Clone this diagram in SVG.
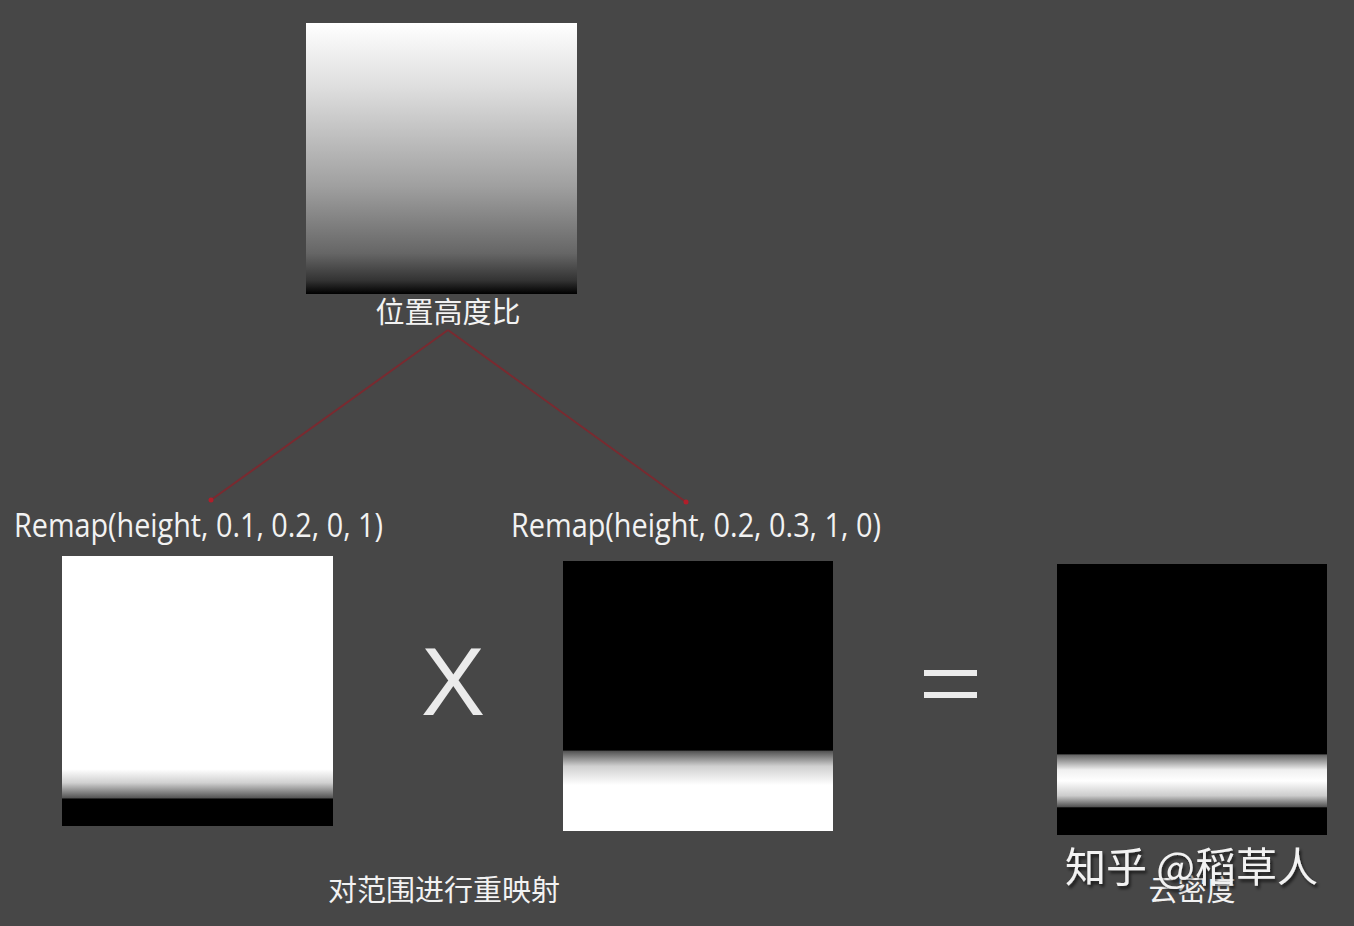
<svg xmlns="http://www.w3.org/2000/svg" width="1354" height="926" viewBox="0 0 1354 926">
<style>
.t{font-family:"Noto Sans CJK SC","Noto Sans",sans-serif;fill:#f2f2f2}
.r{font-family:"Liberation Sans Narrow","Open Sans","Liberation Sans",sans-serif;fill:#f2f2f2;font-size:32px}
.c{stroke:#7a2a30;stroke-width:2;fill:none;marker-end:url(#dot)}
</style>
<defs>
<linearGradient id="g0" x1="0" y1="0" x2="0" y2="1">
<stop offset="0" stop-color="#ffffff"/>
<stop offset="0.25" stop-color="#dcdcdc"/>
<stop offset="0.6" stop-color="#a0a0a0"/>
<stop offset="0.85" stop-color="#666"/>
<stop offset="0.95" stop-color="#333"/>
<stop offset="1" stop-color="#000"/>
</linearGradient>
<linearGradient id="g1" x1="0" y1="556" x2="0" y2="826" gradientUnits="userSpaceOnUse">
<stop offset="0.79" stop-color="#fff"/>
<stop offset="0.84" stop-color="#d0d0d0"/>
<stop offset="0.896" stop-color="#555"/>
<stop offset="0.9" stop-color="#000"/>
<stop offset="1" stop-color="#000"/>
</linearGradient>
<linearGradient id="g2" x1="0" y1="561" x2="0" y2="831" gradientUnits="userSpaceOnUse">
<stop offset="0.7" stop-color="#000"/>
<stop offset="0.705" stop-color="#555"/>
<stop offset="0.76" stop-color="#d0d0d0"/>
<stop offset="0.83" stop-color="#fff"/>
<stop offset="1" stop-color="#fff"/>
</linearGradient>
<linearGradient id="g3" x1="0" y1="564" x2="0" y2="835" gradientUnits="userSpaceOnUse">
<stop offset="0.7" stop-color="#000"/>
<stop offset="0.705" stop-color="#666"/>
<stop offset="0.76" stop-color="#f0f0f0"/>
<stop offset="0.8" stop-color="#fff"/>
<stop offset="0.855" stop-color="#ccc"/>
<stop offset="0.895" stop-color="#555"/>
<stop offset="0.9" stop-color="#000"/>
<stop offset="1" stop-color="#000"/>
</linearGradient>
<marker id="dot" markerWidth="6" markerHeight="6" refX="3" refY="3" markerUnits="userSpaceOnUse">
<circle cx="3" cy="3" r="2.5" fill="#b01e2a"/>
</marker>
<filter id="sh" x="-10%" y="-10%" width="130%" height="140%">
<feDropShadow dx="2" dy="3" stdDeviation="1.5" flood-color="#000" flood-opacity="0.6"/>
</filter>
</defs>
<rect width="1354" height="926" fill="#474747"/>
<g id="connectors">
<line class="c" x1="448" y1="330" x2="211" y2="500"/>
<line class="c" x1="448" y1="330" x2="686" y2="502"/>
</g>
<g id="height-ratio">
<rect x="306" y="23" width="271" height="271" fill="url(#g0)"/>
<text class="t" x="448" y="323" font-size="29" text-anchor="middle">位置高度比</text>
</g>
<g id="remap1">
<text class="r" x="14" y="537" textLength="369" lengthAdjust="spacingAndGlyphs">Remap(height, 0.1, 0.2, 0, 1)</text>
<rect x="62" y="556" width="271" height="270" fill="url(#g1)"/>
</g>
<g id="times">
<text x="453" y="715" font-family="Liberation Sans, sans-serif" font-size="96" fill="#ebebeb" text-anchor="middle">X</text>
</g>
<g id="remap2">
<text class="r" x="511" y="537" textLength="370" lengthAdjust="spacingAndGlyphs">Remap(height, 0.2, 0.3, 1, 0)</text>
<rect x="563" y="561" width="270" height="270" fill="url(#g2)"/>
</g>
<g id="equals">
<rect x="924" y="670" width="53" height="6" fill="#ebebeb"/>
<rect x="924" y="692" width="53" height="6" fill="#ebebeb"/>
</g>
<g id="density">
<rect x="1057" y="564" width="270" height="271" fill="url(#g3)"/>
<text class="t" x="1192" y="901" font-size="29" text-anchor="middle">云密度</text>
</g>
<g id="caption">
<text class="t" x="444" y="901" font-size="29" text-anchor="middle">对范围进行重映射</text>
</g>
<g id="watermark">
<text class="t" x="1065" y="882" font-size="41" filter="url(#sh)" fill="#fff">知乎 @稻草人</text>
</g>
</svg>
